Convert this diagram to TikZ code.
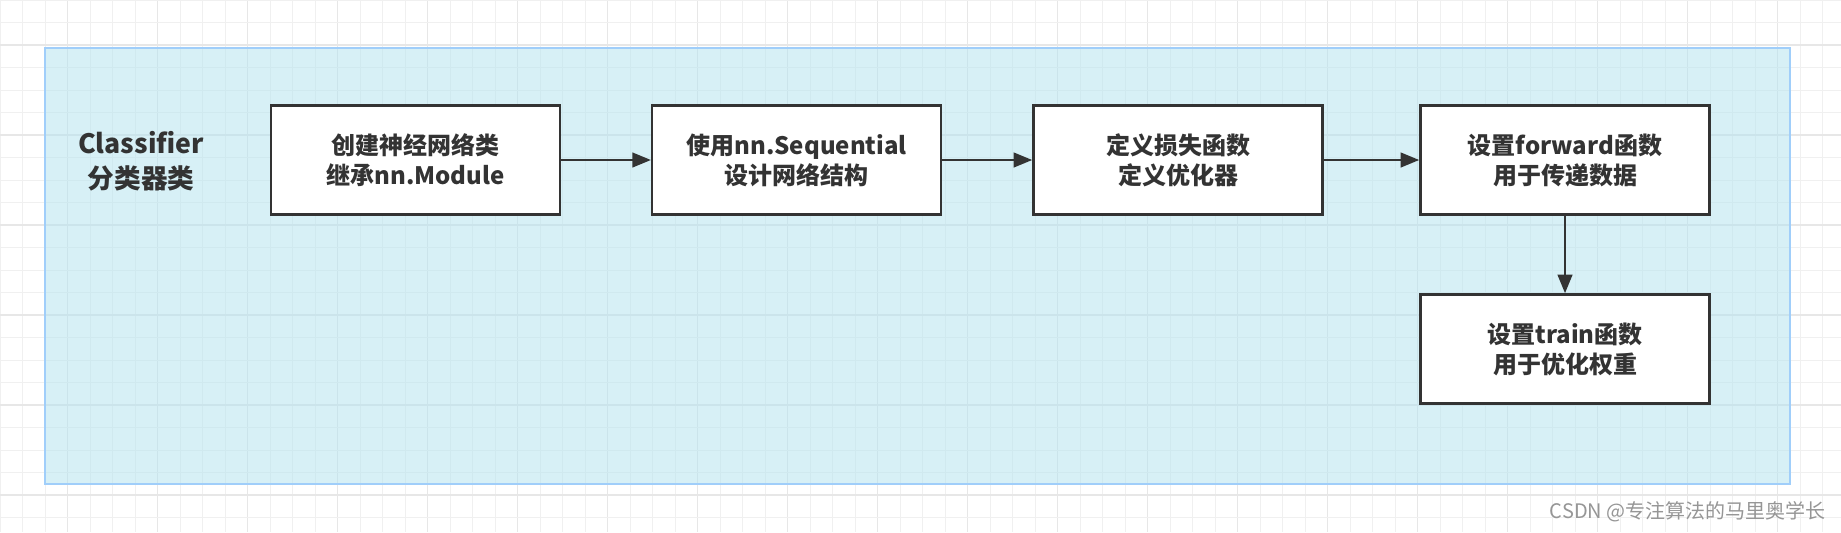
\documentclass[tikz,border=0pt]{standalone}
\usepackage{fontspec}
\setmainfont{Noto Sans CJK SC}
\usetikzlibrary{arrows.meta}
\definecolor{gridminor}{RGB}{240,240,240}
\definecolor{gridmajor}{RGB}{231,231,231}
\definecolor{contfill}{RGB}{177,227,239}
\definecolor{contborder}{RGB}{160,206,250}
\definecolor{ink}{RGB}{51,51,51}
\definecolor{wm}{RGB}{150,150,150}
\tikzset{
  stepbox/.style={draw=ink, line width=1.9pt, fill=white, minimum width=216.75pt, minimum height=81.75pt, align=center, inner sep=0pt, text=ink, font=\fontsize{18}{22.5}\selectfont\bfseries},
  flow/.style={draw=ink, line width=1.8pt, -{Triangle[length=14pt,width=11pt]}},
  lbl/.style={align=center, text=ink, font=\fontsize{20}{26}\selectfont\bfseries},
  wmark/.style={text=wm, font=\fontsize{15}{18}\selectfont, inner sep=0pt}
}
\begin{document}
\begin{tikzpicture}[x=0.75pt,y=-0.75pt]
\useasboundingbox (0,0) rectangle (1841,532);
\fill[white] (0,0) rectangle (1841,532);
% grid
\foreach \k in {0,...,81}{
  \pgfmathtruncatemacro\m{mod(\k,4)}
  \ifnum\m=3
    \draw[gridmajor, line width=0.9pt] (22.5*\k,0) -- (22.5*\k,532);
  \else
    \draw[gridminor, line width=0.75pt] (22.5*\k,0) -- (22.5*\k,532);
  \fi
}
\foreach \k in {0,...,23}{
  \pgfmathtruncatemacro\m{mod(\k,4)}
  \ifnum\m=2
    \draw[gridmajor, line width=0.9pt] (0,22.5*\k) -- (1841,22.5*\k);
  \else
    \draw[gridminor, line width=0.75pt] (0,22.5*\k) -- (1841,22.5*\k);
  \fi
}
% container
\fill[contfill, fill opacity=0.5] (45,48) rectangle (1790,484);
\draw[contborder, line width=1.6pt] (45,48) rectangle (1790,484);
% label
\node[lbl] (title) at (141,161) {Classifier\\分类器类};
% boxes
\node[stepbox] (b1) at (415.5,160) {创建神经网络类\\继承nn.Module};
\node[stepbox] (b2) at (796.7,160) {使用nn.Sequential\\设计网络结构};
\node[stepbox] (b3) at (1178,160) {定义损失函数\\定义优化器};
\node[stepbox] (b4) at (1565,160) {设置forward函数\\用于传递数据};
\node[stepbox] (b5) at (1565,349) {设置train函数\\用于优化权重};
% arrows
\draw[flow] (b1.east) -- (b2.west);
\draw[flow] (b2.east) -- (b3.west);
\draw[flow] (b3.east) -- (b4.west);
\draw[flow] (b4.south) -- (b5.north);
% watermark
\node[wmark, anchor=east] (wmk) at (1826,512) {CSDN @专注算法的马里奥学长};
\end{tikzpicture}
\end{document}
